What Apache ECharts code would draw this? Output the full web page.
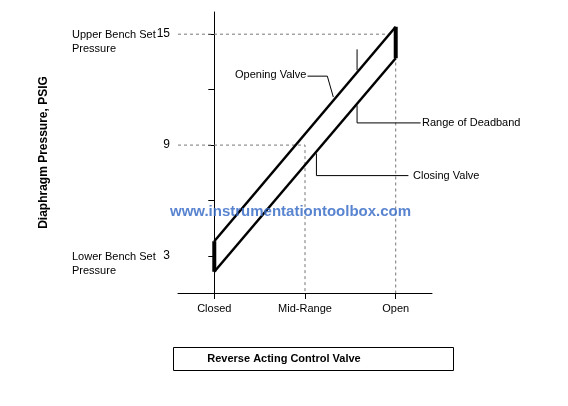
<!DOCTYPE html>
<html>
<head>
<meta charset="utf-8">
<script src="https://cdn.jsdelivr.net/npm/echarts@6/dist/echarts.min.js"></script>
<style>
  html, body { margin: 0; padding: 0; background: #fff; }
  #chart { width: 568px; height: 406px; }
</style>
</head>
<body>
<div id="chart"></div>
<script>
// valve position (0 = closed, 100 = open) vs diaphragm pressure
const xTicks = [0, 50, 100];
const xTickLabels = { 0: 'Closed', 50: 'Mid-Range', 100: 'Open' };
const yTicks = [3, 6, 9, 12, 15];
const yLabelled = [3, 9, 15];

// deadband parallelogram corners
const openingLine = [[0, 3.8], [100, 15.4]];
const closingLine = [[0, 2.15], [100, 13.7]];
const closedEdge = [[0, 2.15], [0, 3.8]];
const openEdge = [[100, 13.7], [100, 15.4]];

// dashed guides
const guide15 = [[-20, 15], [100, 15], [100, 1]];
const guide9 = [[-20, 9], [50, 9], [50, 1]];

// callout leaders (end with arrow)
const leaders = [
  [[51.4, 12.73], [62.3, 12.73], [65.6, 11.6]],   // opening valve
  [[60, 10.76], [57, 10.42]],                      // arrow on opening line
  [[78.7, 14.18], [78.7, 13.05]],                  // top of deadband
  [[113.7, 10.2], [78.7, 10.2], [78.7, 11.15]],    // range of deadband
  [[57, 8.73], [60.5, 9.14]],                      // arrow on closing line
  [[107, 7.35], [56.3, 7.35], [56.3, 8.55]]        // closing valve
];

const chart = echarts.init(document.getElementById('chart'));
const font = 'Liberation Sans, Arial, sans-serif';

function plain(data, width, dashed) {
  return {
    type: 'line', data: data, symbol: 'none', silent: true,
    lineStyle: { color: dashed ? '#777' : '#000', width: width, type: dashed ? [3, 3] : 'solid' },
    z: dashed ? 1 : 3
  };
}

chart.setOption({
  animation: false,
  grid: { left: 178, right: 136, top: 12, bottom: 113 },
  xAxis: {
    type: 'value', min: -20, max: 120,
    splitLine: { show: false },
    axisLine: { lineStyle: { color: '#000', width: 1 } },
    axisTick: { customValues: xTicks, length: 6, lineStyle: { color: '#000' } },
    axisLabel: {
      customValues: xTicks, color: '#000', fontFamily: font, fontSize: 11, margin: 10,
      formatter: v => xTickLabels[v] || ''
    }
  },
  yAxis: {
    type: 'value', min: 1, max: 16.2,
    name: 'Diaphragm Pressure, PSIG', nameLocation: 'middle', nameGap: 128,
    nameTextStyle: { fontFamily: font, fontSize: 12, fontWeight: 'bold', color: '#000' },
    splitLine: { show: false },
    axisLine: { lineStyle: { color: '#000', width: 1 } },
    axisTick: { customValues: yTicks, length: 6, lineStyle: { color: '#000' } },
    axisLabel: {
      customValues: yLabelled, color: '#000', fontFamily: font, fontSize: 12, margin: 8
    }
  },
  series: [
    plain(guide15, 1, true),
    plain(guide9, 1, true),
    plain(openingLine, 2.5),
    plain(closingLine, 2.5),
    plain(closedEdge, 4),
    plain(openEdge, 4),
    {
      type: 'lines', coordinateSystem: 'cartesian2d', polyline: true, silent: true, z: 4,
      symbol: ['none', 'arrow'], symbolSize: 8,
      lineStyle: { color: '#000', width: 1, opacity: 1 },
      data: leaders.map(c => ({ coords: c }))
    }
  ],
  graphic: [
    { type: 'text', left: 72, top: 28, style: { text: 'Upper Bench Set\nPressure', font: '11px ' + font, fill: '#000', lineHeight: 14 } },
    { type: 'text', left: 72, top: 250, style: { text: 'Lower Bench Set\nPressure', font: '11px ' + font, fill: '#000', lineHeight: 14 } },
    { type: 'text', left: 235, top: 69, style: { text: 'Opening Valve', font: '11px ' + font, fill: '#000' } },
    { type: 'text', left: 422, top: 117, style: { text: 'Range of Deadband', font: '11px ' + font, fill: '#000' } },
    { type: 'text', left: 413, top: 170, style: { text: 'Closing Valve', font: '11px ' + font, fill: '#000' } },
    { type: 'text', left: 170, top: 204, z: 10, style: { text: 'www.instrumentationtoolbox.com', font: 'bold 15px ' + font, fill: 'rgba(60,110,200,0.85)' } },
    { type: 'rect', shape: { x: 173.5, y: 347.5, width: 280, height: 23 }, style: { fill: '#fff', stroke: '#000', lineWidth: 1 } },
    { type: 'text', left: 'center', top: 353, style: { text: 'Reverse Acting Control Valve', font: 'bold 11px ' + font, fill: '#000' }, x: 0 }
  ]
});
</script>
</body>
</html>
